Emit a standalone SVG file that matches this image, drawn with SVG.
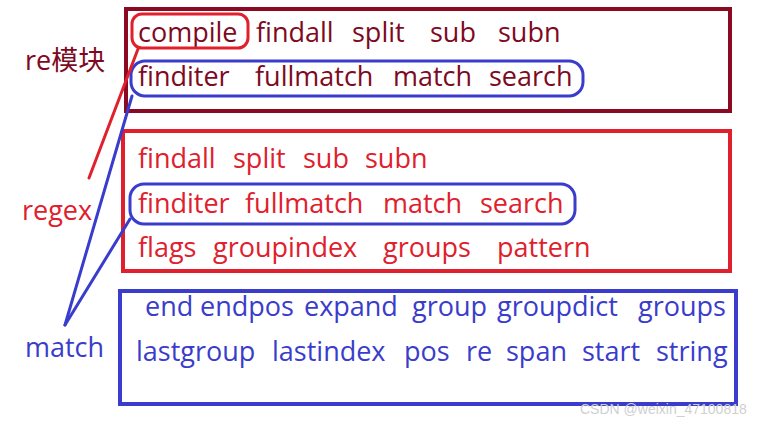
<svg xmlns="http://www.w3.org/2000/svg" width="759" height="423" viewBox="0 0 759 423">
<style>
text{font-family:"Open Sans","Noto Sans","Noto Sans CJK SC",sans-serif;font-size:27px}
.dr{fill:#7d0a22}
.rd{fill:#e0202c}
.bl{fill:#3a3ccc}
.box{fill:none;stroke-width:4}
.hl{fill:none;stroke-width:3}
.wm{font-family:"Liberation Sans",sans-serif;font-size:14px;fill:#d0d0d0}
</style>
<rect width="759" height="423" fill="#ffffff"/>
<g id="labels">
<text class="dr" x="25" y="70">re模块</text>
<text class="rd" x="22" y="220">regex</text>
<text class="bl" x="25" y="357">match</text>
</g>
<g id="re-module">
<rect class="box" x="126" y="9" width="604" height="102" stroke="#8b0a22"/>
<text class="dr" y="42"><tspan x="138">compile</tspan><tspan x="256">findall</tspan><tspan x="352">split</tspan><tspan x="430">sub</tspan><tspan x="498">subn</tspan></text>
<text class="dr" y="86"><tspan x="138">finditer</tspan><tspan x="255">fullmatch</tspan><tspan x="393">match</tspan><tspan x="489">search</tspan></text>
</g>
<g id="regex">
<rect class="box" x="123" y="131" width="607" height="140" stroke="#e0202c"/>
<text class="rd" y="168"><tspan x="138">findall</tspan><tspan x="233">split</tspan><tspan x="303">sub</tspan><tspan x="365">subn</tspan></text>
<text class="rd" y="213"><tspan x="138">finditer</tspan><tspan x="245">fullmatch</tspan><tspan x="383">match</tspan><tspan x="480">search</tspan></text>
<text class="rd" y="257"><tspan x="138">flags</tspan><tspan x="213">groupindex</tspan><tspan x="383">groups</tspan><tspan x="497">pattern</tspan></text>
</g>
<g id="match">
<rect class="box" x="120" y="291" width="616" height="113" stroke="#3a3ccc"/>
<text class="bl" y="316"><tspan x="145">end</tspan><tspan x="200">endpos</tspan><tspan x="304">expand</tspan><tspan x="412">group</tspan><tspan x="497">groupdict</tspan><tspan x="638">groups</tspan></text>
<text class="bl" y="361"><tspan x="136">lastgroup</tspan><tspan x="272">lastindex</tspan><tspan x="404">pos</tspan><tspan x="466">re</tspan><tspan x="506">span</tspan><tspan x="582">start</tspan><tspan x="656">string</tspan></text>
</g>
<g id="highlights">
<rect class="hl" x="132" y="14" width="116" height="34" rx="10" stroke="#e0202c"/>
<rect class="hl" x="131" y="61" width="452" height="35" rx="14" stroke="#3a3ccc"/>
<rect class="hl" x="130" y="184" width="445" height="40" rx="14" stroke="#3a3ccc"/>
</g>
<g id="connectors" fill="none" stroke-width="3" stroke-linecap="round">
<line x1="138" y1="49" x2="89" y2="178" stroke="#e0202c"/>
<line x1="132" y1="96" x2="65" y2="325" stroke="#3a3ccc"/>
<line x1="130" y1="219" x2="65" y2="325" stroke="#3a3ccc"/>
</g>
<text class="wm" x="580" y="414">CSDN @weixin_47100818</text>
</svg>
